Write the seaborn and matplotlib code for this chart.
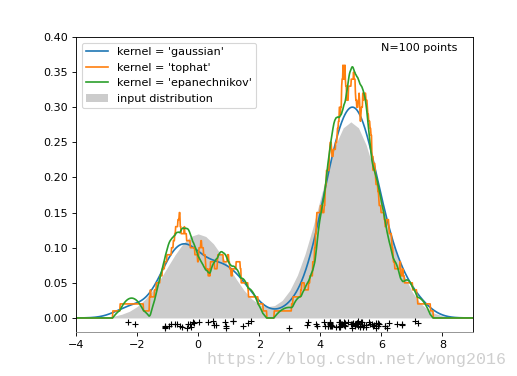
import numpy as np
import pandas as pd
import matplotlib
matplotlib.use("Agg")
import matplotlib.pyplot as plt
import seaborn as sns

# ---- data ----
# sample points (the '+' marks along the bottom)
samples_left = [1.62, -0.61, -0.53, -1.07, 0.87, -2.30, 1.74, -0.76, 0.32, -0.25,
                1.46, -2.06, -0.32, -0.38, 1.13, -1.10, -0.17, -0.88, 0.04, 0.58,
                -1.10, 1.14, 0.90, 0.50, 0.90, -0.68, -0.12, -0.94, -0.27, 0.53]
samples_right = [4.31, 4.60, 4.31, 4.15, 4.33, 4.99, 3.88, 5.23, 6.66, 5.74,
                 4.81, 4.11, 4.25, 6.69, 5.05, 4.36, 5.19, 7.10, 5.12, 5.62,
                 5.30, 4.65, 3.86, 4.65, 4.79, 5.59, 5.84, 5.93, 5.29, 5.89,
                 4.25, 6.25, 5.51, 4.70, 5.49, 4.92, 6.13, 6.52, 7.19, 3.60,
                 3.56, 4.50, 5.16, 5.88, 5.32, 2.98, 4.69, 5.83, 5.23, 5.76,
                 4.78, 4.80, 5.19, 5.41, 5.20, 5.12, 4.33, 5.38, 5.12, 6.13,
                 6.20, 5.19, 4.62, 4.36, 5.42, 5.08, 4.66, 5.04, 4.38, 5.70]
samples = samples_left + samples_right

# vertical offsets of the '+' marks
jitter = [-0.007, -0.012, -0.013, -0.011, -0.006, -0.006, -0.005, -0.009, -0.006, -0.013,
          -0.012, -0.009, -0.008, -0.014, -0.005, -0.013, -0.006, -0.008, -0.006, -0.010,
          -0.014, -0.005, -0.012, -0.005, -0.014, -0.008, -0.007, -0.012, -0.009, -0.010,
          -0.006, -0.013, -0.008, -0.011, -0.007, -0.009, -0.012, -0.005, -0.010, -0.012,
          -0.007, -0.006, -0.012, -0.009, -0.014, -0.010, -0.007, -0.005, -0.011, -0.008,
          -0.013, -0.006, -0.008, -0.012, -0.010, -0.006, -0.014, -0.009, -0.011, -0.007,
          -0.012, -0.007, -0.013, -0.008, -0.010, -0.006, -0.012, -0.009, -0.007, -0.006,
          -0.010, -0.013, -0.008, -0.011, -0.006, -0.014, -0.009, -0.007, -0.012, -0.010,
          -0.006, -0.011, -0.008, -0.013, -0.007, -0.010, -0.012, -0.006, -0.009, -0.011,
          -0.014, -0.008, -0.006, -0.012, -0.010, -0.007, -0.013, -0.009, -0.011, -0.008]

# input (true) distribution, read at steps of 0.25
dist_x = list(np.arange(-4.0, 9.001, 0.25))
dist_y = [0.0000, 0.0001, 0.0003, 0.0006, 0.0013, 0.0027, 0.0053, 0.0095, 0.0162, 0.0259,
          0.0389, 0.0548, 0.0726, 0.0903, 0.1056, 0.1160, 0.1197, 0.1160, 0.1056, 0.0903,
          0.0727, 0.0551, 0.0395, 0.0273, 0.0193, 0.0159, 0.0176, 0.0249, 0.0391, 0.0610,
          0.0910, 0.1279, 0.1694, 0.2108, 0.2465, 0.2707, 0.2792, 0.2707, 0.2465, 0.2108,
          0.1694, 0.1278, 0.0907, 0.0604, 0.0378, 0.0222, 0.0123, 0.0064, 0.0031, 0.0014,
          0.0006, 0.0003, 0.0001]

kernels = ["gaussian", "tophat", "epanechnikov"]
bandwidth = 0.5
x_ticks = [-4, -2, 0, 2, 4, 6, 8]
y_ticks = [0.00, 0.05, 0.10, 0.15, 0.20, 0.25, 0.30, 0.35, 0.40]
colors = ["#1f77b4", "#ff7f0e", "#2ca02c"]

# ---- kernel density estimates of the samples ----
pts = np.asarray(samples)
grid = np.linspace(-5, 10, 1000)
u = (grid[:, None] - pts[None, :]) / bandwidth


def kde(kind):
    if kind == "gaussian":
        k = np.exp(-0.5 * u ** 2) / np.sqrt(2 * np.pi)
    elif kind == "tophat":
        k = (np.abs(u) < 1).astype(float) * 0.5
    else:
        k = np.clip(1 - u ** 2, 0, None) * 0.75
    return k.sum(axis=1) / (len(pts) * bandwidth)


W, H, DPI = 517, 376, 80
fig = plt.figure(figsize=(W / DPI, H / DPI), dpi=DPI)
ax = fig.add_axes([76 / W, 1 - 332 / H, (473 - 76) / W, (332 - 37) / H])

fill = ax.fill_between(dist_x, dist_y, color="black", alpha=0.2, lw=0,
                       label="input distribution")

for kern, col in zip(kernels, colors):
    df = pd.DataFrame({"x": grid, "density": kde(kern)})
    sns.lineplot(data=df, x="x", y="density", color=col, lw=1.5,
                 label="kernel = '{0}'".format(kern), ax=ax)

ax.text(6, 0.38, "N={0} points".format(len(samples)))
handles, labels = ax.get_legend_handles_labels()
order = [labels.index("kernel = '{0}'".format(k)) for k in kernels] + \
        [labels.index("input distribution")]
ax.legend([handles[i] for i in order], [labels[i] for i in order], loc="upper left")
ax.plot(samples, jitter, "+k")

ax.set_xlim(-4, 9)
ax.set_ylim(-0.02, 0.4)
ax.set_xticks(x_ticks)
ax.set_yticks(y_ticks)
ax.set_xlabel("")
ax.set_ylabel("")
ax.spines["bottom"].set_color("#8c8c8c")

fig.text(207 / W, 1 - 364 / H, "https://blog.csdn.net/wong2016",
         family="Liberation Mono", fontsize=15, color="#cfcfcf")

fig.savefig("out.png", dpi=DPI)
